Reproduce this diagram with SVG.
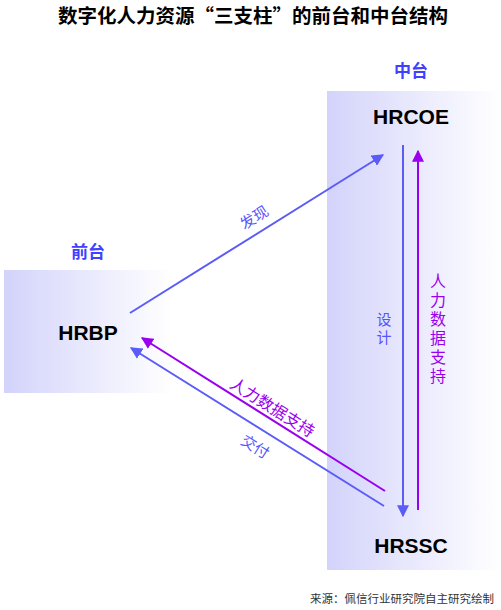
<svg xmlns="http://www.w3.org/2000/svg" width="501" height="610" viewBox="0 0 501 610">
<style>
.title{font-family:"Noto Sans CJK SC","Liberation Sans",sans-serif;font-weight:bold;font-size:19.5px;fill:#000}
.sec{font-family:"Noto Sans CJK SC",sans-serif;font-weight:bold;font-size:17px;fill:#4040ff}
.node{font-family:"Liberation Sans",Arial,sans-serif;font-weight:bold;font-size:21px;fill:#000}
.lb{font-family:"Noto Sans CJK SC",sans-serif;font-size:15px}
.vt{writing-mode:vertical-rl;text-orientation:upright}
.blue{fill:#5555ff}
.purple{fill:#9a00ee}
.lnb{stroke:#5b5bf8;stroke-width:2;fill:none}
.lnp{stroke:#9a00ee;stroke-width:2;fill:none}
.foot{font-family:"Noto Sans CJK SC",sans-serif;font-size:11.5px;fill:#333}
</style>
<defs>
<linearGradient id="g" x1="0" y1="0" x2="1" y2="0">
<stop offset="0" stop-color="#d3d3fb"/>
<stop offset="1" stop-color="#ffffff"/>
</linearGradient>
<marker id="ab" viewBox="0 0 10 10" refX="9" refY="5" markerWidth="6" markerHeight="6" orient="auto" markerUnits="strokeWidth"><path d="M0,0 L10,5 L0,10 Z" fill="#5b5bf8"/></marker>
<marker id="ap" viewBox="0 0 10 10" refX="9" refY="5" markerWidth="6" markerHeight="6" orient="auto" markerUnits="strokeWidth"><path d="M0,0 L10,5 L0,10 Z" fill="#9a00ee"/></marker>
</defs>
<rect width="501" height="610" fill="#fff"/>
<text class="title" x="253" y="23" text-anchor="middle">数字化人力资源“三支柱”的前台和中台结构</text>
<text class="sec" x="411" y="77" text-anchor="middle">中台</text>
<text class="sec" x="88" y="258" text-anchor="middle">前台</text>
<rect x="327" y="91" width="174" height="479" fill="url(#g)"/>
<rect x="4" y="270" width="168" height="123" fill="url(#g)"/>
<g id="HRBP"><text class="node" x="88" y="340" text-anchor="middle">HRBP</text></g>
<g id="HRCOE"><text class="node" x="411" y="124" text-anchor="middle">HRCOE</text></g>
<g id="HRSSC"><text class="node" x="411" y="553" text-anchor="middle">HRSSC</text></g>
<g id="connectors">
<line class="lnb" x1="130" y1="313" x2="383" y2="155" marker-end="url(#ab)"/>
<line class="lnb" x1="403" y1="145" x2="403" y2="516" marker-end="url(#ab)"/>
<line class="lnp" x1="418" y1="510" x2="418" y2="151" marker-end="url(#ap)"/>
<line class="lnp" x1="385" y1="491" x2="142" y2="338" marker-end="url(#ap)"/>
<line class="lnb" x1="384" y1="506" x2="131" y2="348" marker-end="url(#ab)"/>
<text class="lb blue" transform="translate(257,222) rotate(-32)" text-anchor="middle">发现</text>
<text class="lb blue vt" x="384" y="330" text-anchor="middle" style="letter-spacing:3px">设计</text>
<text class="lb purple vt" x="438" y="330" text-anchor="middle" style="font-size:16px;letter-spacing:3px">人力数据支持</text>
<text class="lb purple" transform="translate(272,408) rotate(32)" text-anchor="middle" style="font-size:16px" dy="5">人力数据支持</text>
<text class="lb blue" transform="translate(255,447) rotate(32)" text-anchor="middle" dy="5">交付</text>
</g>
<text class="foot" x="494" y="603" text-anchor="end">来源：佩信行业研究院自主研究绘制</text>
</svg>
